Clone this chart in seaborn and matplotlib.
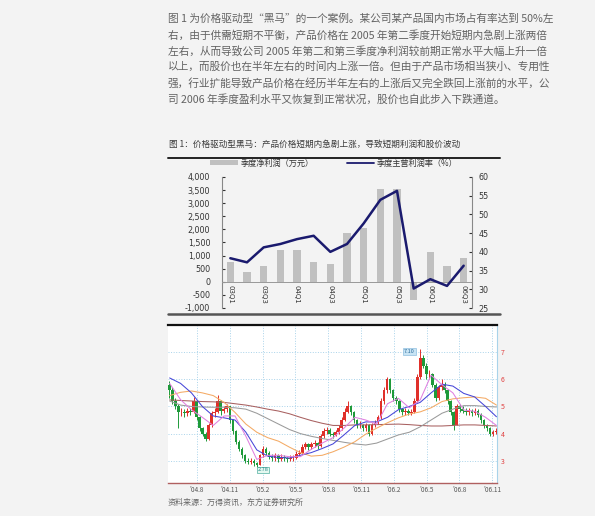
import numpy as np
import pandas as pd
import matplotlib
matplotlib.use('Agg')
import matplotlib.pyplot as plt
import seaborn as sns
from matplotlib.patches import Patch
from matplotlib.lines import Line2D
from matplotlib.ticker import FuncFormatter

# ---------------- data ----------------
para_lines = [
    "图 1 为价格驱动型“黑马”的一个案例。某公司某产品国内市场占有率达到 50%左",
    "右，由于供需短期不平衡，产品价格在 2005 年第二季度开始短期内急剧上涨两倍",
    "左右，从而导致公司 2005 年第二和第三季度净利润较前期正常水平大幅上升一倍",
    "以上，而股价也在半年左右的时间内上涨一倍。但由于产品市场相当狭小、专用性",
    "强，行业扩能导致产品价格在经历半年左右的上涨后又完全跌回上涨前的水平，公",
    "司 2006 年季度盈利水平又恢复到正常状况，股价也自此步入下跌通道。",
]
caption = "图 1：价格驱动型黑马：产品价格短期内急剧上涨，导致短期利润和股价波动"
source = "资料来源：万得资讯，东方证券研究所"

quarters = ['03Q1', '03Q2', '03Q3', '03Q4', '04Q1', '04Q2', '04Q3', '04Q4',
            '05Q1', '05Q2', '05Q3', '05Q4', '06Q1', '06Q2', '06Q3']
net_profit = [750, 380, 620, 1230, 1210, 750, 680, 1850, 2050, 3550, 3550, -700, 1120, 600, 900]
margin = [38.3, 37.2, 41.2, 42.1, 43.4, 44.3, 40.0, 42.1, 47.6, 53.9, 56.3, 30.2, 32.7, 30.9, 36.3]
legend_labels = ['季度净利润（万元）', '季度主营利润率（%）']

month_labels = ["'04.8", "'04.11", "'05.2", "'05.5", "'05.8", "'05.11", "'06.2", "'06.5", "'06.8", "'06.11"]

first_open = 5.8
closes = [5.6, 5.2, 5.0, 4.8, 4.8, 4.75, 4.85, 4.8, 5.2, 4.6,
          4.2, 4.0, 3.8, 4.3, 4.75, 4.8, 5.2, 4.85, 4.9, 5.0,
          4.5, 4.1, 3.7, 3.45, 3.2, 3.0, 2.95, 3.0, 2.9, 2.85,
          3.2, 3.45, 3.3, 3.15, 3.1, 3.2, 3.05, 3.15, 3.1, 3.05,
          3.1, 3.1, 3.25, 3.3, 3.5, 3.6, 3.5, 3.6, 3.65, 3.55,
          3.9, 4.1, 4.15, 4.0, 3.95, 4.05, 4.2, 4.5, 4.8, 5.0,
          4.8, 4.5, 4.3, 4.3, 4.2, 4.3, 4.0, 4.3, 4.4, 4.6,
          5.2, 5.6, 6.0, 5.6, 5.3, 5.2, 4.9, 4.8, 4.85, 4.75,
          4.8, 5.2, 6.1, 6.8, 6.5, 6.2, 6.2, 5.8, 5.3, 5.7,
          5.8, 5.6, 5.2, 4.8, 4.3, 5.0, 4.9, 4.85, 4.8, 4.85,
          4.75, 4.85, 4.7, 4.5, 4.3, 4.2, 4.0, 4.05, 4.1]
highs = [5.95, 5.7, 5.3, 5.1, 4.95, 4.9, 4.95, 4.95, 5.35, 5.2,
         4.65, 4.25, 4.05, 4.4, 4.85, 4.95, 5.42, 5.25, 5.0, 5.1,
         5.0, 4.55, 4.15, 3.75, 3.5, 3.25, 3.1, 3.1, 3.05, 2.95,
         3.25, 3.55, 3.5, 3.35, 3.25, 3.3, 3.25, 3.25, 3.2, 3.15,
         3.2, 3.2, 3.35, 3.4, 3.6, 3.7, 3.65, 3.7, 3.75, 3.7,
         4.0, 4.2, 4.25, 4.2, 4.05, 4.15, 4.3, 4.6, 4.95, 5.2,
         5.05, 4.85, 4.55, 4.45, 4.35, 4.4, 4.35, 4.4, 4.5, 4.7,
         5.3, 5.7, 6.1, 6.05, 5.65, 5.4, 5.25, 4.95, 4.95, 4.9,
         4.9, 5.3, 6.2, 7.1, 6.9, 6.6, 6.35, 6.25, 5.85, 5.8,
         6.0, 5.9, 5.65, 5.25, 4.85, 5.1, 5.1, 5.0, 4.95, 4.95,
         4.9, 4.95, 4.9, 4.75, 4.55, 4.35, 4.25, 4.15, 4.2]
lows = [5.3, 5.1, 4.9, 4.2, 4.65, 4.6, 4.65, 4.7, 4.75, 4.5,
        4.1, 3.9, 3.72, 3.75, 4.25, 4.6, 4.75, 4.7, 4.75, 4.8,
        4.4, 4.0, 3.6, 3.35, 3.1, 2.92, 2.88, 2.88, 2.82, 2.78,
        2.85, 3.15, 3.2, 3.05, 3.0, 3.0, 2.95, 2.98, 3.0, 2.95,
        2.98, 3.0, 3.05, 3.2, 3.25, 3.45, 3.4, 3.45, 3.5, 3.45,
        3.5, 3.85, 4.0, 3.9, 3.85, 3.9, 4.0, 4.15, 4.45, 4.75,
        4.7, 4.4, 4.2, 4.2, 4.1, 4.1, 3.92, 3.95, 4.25, 4.35,
        4.55, 5.1, 5.5, 5.5, 5.2, 5.1, 4.8, 4.7, 4.7, 4.7,
        4.7, 4.75, 5.15, 6.0, 6.4, 6.0, 6.0, 5.7, 5.2, 5.25,
        5.6, 5.5, 5.1, 4.7, 4.15, 4.3, 4.8, 4.75, 4.7, 4.7,
        4.65, 4.7, 4.6, 4.4, 4.2, 4.1, 3.9, 3.92, 4.0]

ma_brown = [5.24, 5.22, 5.2, 5.18, 5.17, 5.15, 5.1, 5.05, 4.98, 4.9, 4.83, 4.73, 4.6, 4.48, 4.38, 4.3,
            4.3, 4.32, 4.32, 4.33, 4.34, 4.35, 4.33, 4.3, 4.28, 4.28, 4.3, 4.32, 4.32, 4.3, 4.28]
ma_gray = [5.2, 5.05, 5.0, 4.98, 4.97, 4.97, 4.95, 4.9, 4.75, 4.55, 4.35, 4.15, 4.0, 3.9, 3.82, 3.75,
           3.68, 3.62, 3.58, 3.65, 3.8, 3.95, 4.05, 4.25, 4.5, 4.75, 4.9, 5.03, 5.03, 5.0, 4.98]
ma_orange = [5.4, 5.52, 5.57, 5.5, 5.4, 5.15, 4.78, 4.35, 4.05, 3.85, 3.72, 3.5, 3.3, 3.17, 3.2, 3.33,
             3.5, 3.7, 3.98, 4.2, 4.4, 4.58, 4.72, 4.8, 4.95, 5.18, 5.28, 5.32, 5.35, 5.3, 5.05]
ma_blue = [6.05, 5.85, 5.5, 5.0, 4.65, 4.58, 4.5, 4.05, 3.4, 3.17, 3.12, 3.1, 3.2, 3.3, 3.45, 3.62,
           3.95, 4.3, 4.43, 4.43, 4.6, 4.88, 5.0, 5.15, 5.5, 5.82, 5.75, 5.48, 5.35, 5.0, 4.62]
ma_magenta = [5.85, 5.25, 4.88, 4.6, 4.3, 4.65, 4.65, 3.9, 3.05, 3.2, 3.2, 3.15, 3.15, 3.42, 3.65, 3.85,
              4.2, 4.6, 4.5, 4.35, 5.1, 5.3, 4.95, 5.24, 6.15, 5.8, 5.5, 4.87, 4.82, 4.6, 4.3]
low_label = "2.78"
high_label = "7.10"

# ---------------- style ----------------
sns.set_style('white')
plt.rcParams['font.family'] = ['Noto Sans CJK SC', 'DejaVu Sans']

W, H = 595, 516
def fx(px): return px / W
def fy(py): return 1 - py / H

fig = plt.figure(figsize=(W / 100, H / 100), dpi=100, facecolor='#f3f3f3')

# paragraph text
for i, line in enumerate(para_lines):
    fig.text(fx(168), fy(19 + 16 * i), line, fontsize=7.7, color='#626262', va='center', ha='left')

fig.text(fx(169), fy(144), caption, fontsize=6.2, color='#3a3a3a', va='center', ha='left')

# frame lines
fig.add_artist(Line2D([fx(168), fx(500)], [fy(158), fy(158)], color='#222222', lw=1.4))
fig.add_artist(Line2D([fx(168), fx(500)], [fy(314), fy(314)], color='#555555', lw=1.8))

# ---------------- bar + line chart ----------------
ax = fig.add_axes([fx(222), fy(308), 250 / W, 131 / H])
ax.patch.set_alpha(0)
df = pd.DataFrame({'q': quarters, 'profit': net_profit, 'pos': np.arange(len(quarters)), 'margin': margin})
sns.barplot(data=df, x='q', y='profit', ax=ax, color='#c0c0c0', saturation=1, width=0.45, edgecolor='none')
ax.set_xlim(-0.5, len(quarters) - 0.5)
ax.set_ylim(-1000, 4000)
ax.set_yticks(range(-1000, 4001, 500))
ax.yaxis.set_major_formatter(FuncFormatter(lambda v, p: f"{v:,.0f}"))
ax.set_xlabel('')
ax.set_ylabel('')
ax.spines['bottom'].set_position(('data', 0))
for s in ['top', 'right']:
    ax.spines[s].set_visible(False)
ax.spines['bottom'].set_color('#999999')
ax.spines['bottom'].set_linewidth(0.7)
ax.spines['left'].set_color('#888888')
ax.spines['left'].set_linewidth(0.8)
ax.set_xticks(range(len(quarters)))
ax.set_xticklabels([q if i % 2 == 0 else '' for i, q in enumerate(quarters)])
ax.set_xticks(np.arange(0.5, len(quarters) - 0.5, 1), minor=True)
ax.tick_params(axis='x', which='major', length=0, labelsize=5.0, labelrotation=-90, pad=2, colors='#333333')
ax.tick_params(axis='x', which='minor', direction='in', length=1.5, color='#777777')
ax.tick_params(axis='y', direction='in', length=2, labelsize=5.8, pad=8.5, colors='#333333', left=True)
for t in ax.get_yticklabels() + ax.get_xticklabels():
    t.set_fontfamily('DejaVu Sans')

ax2 = ax.twinx()
sns.lineplot(data=df, x='pos', y='margin', ax=ax2, color='#1a1a6e', lw=1.8)
ax2.set_ylim(25, 60)
ax2.set_xlim(-0.5, len(quarters) - 0.5)
ax2.set_yticks(range(25, 61, 5))
ax2.set_ylabel('')
ax2.set_xlabel('')
for s in ['top', 'bottom', 'left']:
    ax2.spines[s].set_visible(False)
ax2.spines['right'].set_color('#888888')
ax2.spines['right'].set_linewidth(0.8)
ax2.tick_params(axis='y', direction='in', length=2, labelsize=5.8, pad=4.5, colors='#333333', right=True)
for t in ax2.get_yticklabels():
    t.set_fontfamily('DejaVu Sans')

handles = [Patch(facecolor='#c0c0c0', edgecolor='none'), Line2D([], [], color='#1a1a6e', lw=1.3)]
fig.legend(handles, legend_labels, loc='center', bbox_to_anchor=(fx(334), fy(163)), ncol=2,
           frameon=False, fontsize=5.9, handlelength=3.4, handleheight=0.45, handletextpad=0.3,
           columnspacing=4.0, labelcolor='#333333')

# ---------------- candlestick chart ----------------
ax3 = fig.add_axes([fx(168), fy(483), 329 / W, 158 / H])
ax3.set_facecolor('white')
n = len(closes)
pos = np.linspace(-2.53, 27.36, n)
opens = [first_open] + closes[:-1]
up = np.array(closes) >= np.array(opens)
cols = np.where(up, '#e0302a', '#1e9a3a')
ax3.vlines(pos, lows, highs, colors=cols, lw=0.7, zorder=3)
ax3.bar(pos, np.array(closes) - np.array(opens), bottom=opens, width=0.24, color=cols, zorder=3, lw=0)

ma_pos = np.linspace(-2.5, 27.4, len(ma_brown))
for vals, c in [(ma_brown, '#a86060'), (ma_gray, '#9a9a9a'), (ma_orange, '#f4aa64'),
                (ma_blue, '#4646d8'), (ma_magenta, '#e080e0')]:
    sns.lineplot(x=ma_pos, y=vals, ax=ax3, color=c, lw=0.75, zorder=4)

ax3.set_xlim(-2.65, 27.45)
ax3.set_ylim(2.18, 8.0)
ax3.set_xticks(range(0, 28, 3))
ax3.set_xticklabels(month_labels)
ax3.set_yticks([3, 4, 5, 6, 7])
ax3.yaxis.tick_right()
ax3.grid(True, color='#a9d3ea', ls=':', lw=0.7)
ax3.tick_params(axis='x', length=0, labelsize=4.6, pad=2, colors='#555555')
ax3.tick_params(axis='y', length=0, labelsize=5.0, pad=2.5, colors='#e04040')
ax3.spines['left'].set_visible(False)
ax3.spines['right'].set_color('#a9d3ea')
ax3.spines['right'].set_linewidth(0.8)
ax3.spines['top'].set_color('#111111')
ax3.spines['top'].set_linewidth(1.6)
ax3.spines['bottom'].set_color('#b06060')
ax3.spines['bottom'].set_linewidth(1.0)
ax3.spines['bottom'].set_linestyle((0, (1, 1)))
ax3.set_xlabel('')
ax3.set_ylabel('')

i_low = int(np.argmin(lows))
i_high = int(np.argmax(highs))
ax3.text(pos[i_low] + 0.05, lows[i_low] - 0.12, low_label, fontsize=4, color='#2a8a8a', ha='left', va='center',
         bbox=dict(boxstyle='square,pad=0.15', fc='#e4f8f0', ec='#50b0a0', lw=0.5), zorder=6)
ax3.text(pos[i_high] - 1.5, highs[i_high] - 0.08, high_label, fontsize=4, color='#2a6a9a', ha='left', va='center',
         bbox=dict(boxstyle='square,pad=0.15', fc='#c8e4f4', ec='#90c0e0', lw=0.5), zorder=6)

fig.text(fx(168), fy(502), source, fontsize=5.8, color='#666666', va='center', ha='left')

fig.savefig('out.png', dpi=100, facecolor=fig.get_facecolor())
